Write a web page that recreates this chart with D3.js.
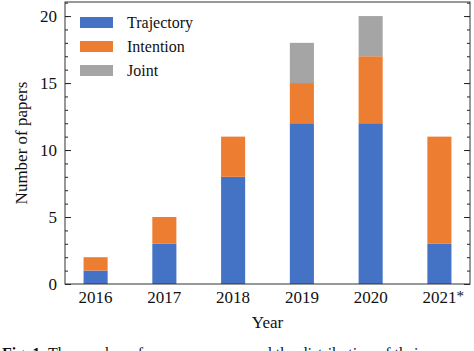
<!DOCTYPE html>
<html>
<head>
<meta charset="utf-8">
<script src="https://cdn.jsdelivr.net/npm/d3@7"></script>
</head>
<body style="margin:0; background:#fff">
<div id="chart"></div>
<script>
// Chart data
const years = ["2016", "2017", "2018", "2019", "2020", "2021"];
const trajectory = [1, 3, 8, 12, 12, 3];
const intention = [1, 2, 3, 3, 5, 8];
const joint = [0, 0, 0, 3, 3, 0];
const seriesNames = ["Trajectory", "Intention", "Joint"];
const seriesColors = ["#4472C4", "#ED7D31", "#A5A5A5"];
const yTicks = [0, 5, 10, 15, 20];

const FONT = "Liberation Serif";
const W = 474, H = 351;
const margin = { top: 2, right: 4, bottom: 67, left: 65 };
const width = W - margin.left - margin.right;
const height = H - margin.top - margin.bottom;

const svg = d3.select("#chart").append("svg")
  .attr("width", W)
  .attr("height", H);

const g = svg.append("g")
  .attr("transform", `translate(${margin.left},${margin.top})`);

// Build stack table
const table = years.map((y, i) => ({
  year: y,
  Trajectory: trajectory[i],
  Intention: intention[i],
  Joint: joint[i]
}));
const stacked = d3.stack().keys(seriesNames)(table);

const x = d3.scaleBand()
  .domain(years)
  .range([0, width])
  .paddingInner(0.65)
  .paddingOuter(0.27);

const y = d3.scaleLinear()
  .domain([0, 21.05])
  .range([height, 0]);

// Bars
g.selectAll(".series")
  .data(stacked)
  .enter()
  .append("g")
    .attr("fill", (d, i) => seriesColors[i])
  .selectAll("rect")
  .data(d => d.filter(s => s[1] > s[0]))
  .enter()
  .append("rect")
    .attr("x", d => x(d.data.year))
    .attr("width", x.bandwidth())
    .attr("y", d => y(d[1]))
    .attr("height", d => y(d[0]) - y(d[1]));

// Minor ticks (every 1) on left and right, inward
const minor = d3.range(0, 22);
g.append("g")
  .call(d3.axisRight(y).tickValues(minor).tickSize(3).tickFormat(""))
  .call(a => a.select(".domain").remove())
  .selectAll("line").attr("stroke", "#222");
g.append("g")
  .attr("transform", `translate(${width},0)`)
  .call(d3.axisLeft(y).tickValues(minor).tickSize(3).tickFormat(""))
  .call(a => a.select(".domain").remove())
  .selectAll("line").attr("stroke", "#222");

// Major ticks with labels
const yAxis = g.append("g")
  .call(d3.axisRight(y).tickValues(yTicks).tickSize(6).tickFormat(d3.format("d")));
yAxis.select(".domain").remove();
yAxis.selectAll("line").attr("stroke", "#222");
yAxis.selectAll("text")
  .attr("x", -8)
  .attr("text-anchor", "end");

g.append("g")
  .attr("transform", `translate(${width},0)`)
  .call(d3.axisLeft(y).tickValues(yTicks).tickSize(6).tickFormat(""))
  .call(a => a.select(".domain").remove())
  .selectAll("line").attr("stroke", "#222");

// X axis labels
const xAxis = g.append("g")
  .attr("transform", `translate(0,${height})`)
  .call(d3.axisBottom(x).tickSize(0).tickPadding(7).tickFormat(d => d));
xAxis.select(".domain").remove();

// Asterisk for 2021
g.append("text")
  .attr("class", "ast")
  .attr("x", x("2021") + x.bandwidth() / 2 + 17)
  .attr("y", height + 17)
  .text("*");

// Frame
g.append("rect")
  .attr("width", width)
  .attr("height", height)
  .attr("fill", "none")
  .attr("stroke", "#333")
  .attr("stroke-width", 1);

// Axis titles
g.append("text")
  .attr("x", width / 2)
  .attr("y", height + 44)
  .attr("text-anchor", "middle")
  .text("Year");

g.append("text")
  .attr("transform", "rotate(-90)")
  .attr("x", -height / 2)
  .attr("y", -38)
  .attr("text-anchor", "middle")
  .text("Number of papers");

// Legend
const legend = g.append("g")
  .attr("transform", "translate(15,15)");
seriesNames.forEach((name, i) => {
  legend.append("rect")
    .attr("x", 0)
    .attr("y", i * 24)
    .attr("width", 33)
    .attr("height", 11)
    .attr("fill", seriesColors[i]);
  legend.append("text")
    .attr("class", "leg")
    .attr("x", 47)
    .attr("y", i * 24 + 11)
    .text(name);
});

// Caption (cut off at bottom of image, as in the source figure)
svg.append("text")
  .attr("class", "cap")
  .attr("x", 2)
  .attr("y", 359)
  .html('<tspan font-weight="bold">Fig. 1.</tspan>  The number of papers per year and the distribution of their');

// Apply the serif font to every text directly
svg.selectAll("text")
  .attr("font-family", FONT)
  .attr("font-size", 17)
  .attr("fill", "#111");
svg.selectAll("text.leg, text.cap").attr("font-size", 16);
svg.selectAll("text.ast").attr("font-size", 15);
</script>
</body>
</html>
